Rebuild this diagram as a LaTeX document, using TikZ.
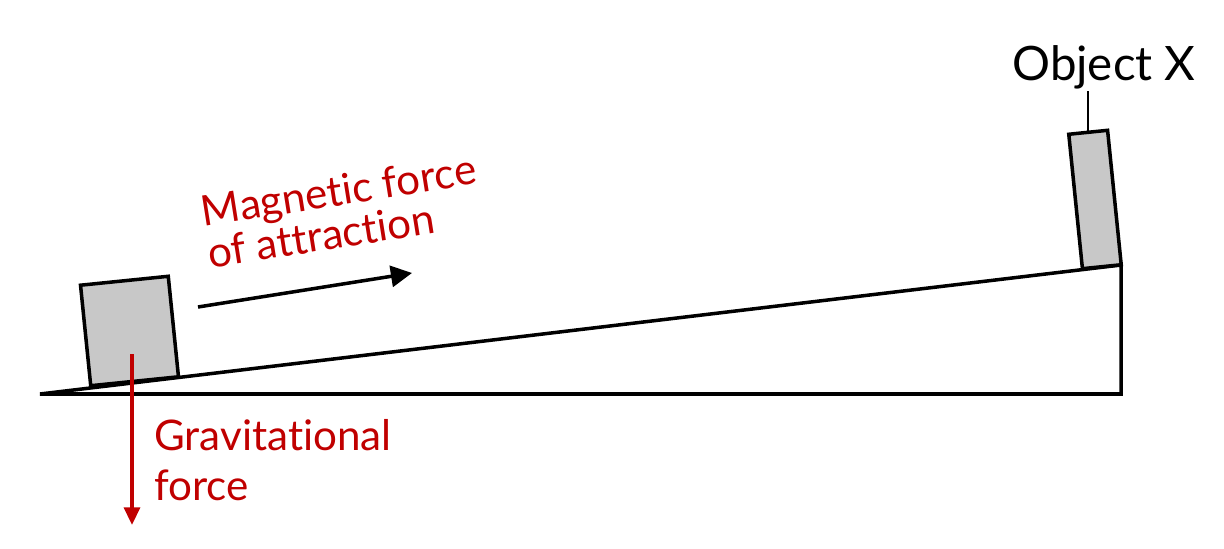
\documentclass[tikz,border=0pt]{standalone}
\usepackage{fontspec}
\setmainfont{Lato}[Ligatures=NoCommon]
\usetikzlibrary{positioning,calc,arrows.meta}
\definecolor{forcered}{RGB}{192,0,0}
\definecolor{blockgray}{RGB}{200,200,200}

\begin{document}
\begin{tikzpicture}[x=0.02cm, y=-0.02cm,
    mass block/.style={rectangle, draw, line width=2pt, fill=blockgray, inner sep=0pt, rotate=5.8},
    ramp line/.style={line width=2pt},
    force arrow/.style={-{Triangle[length=12pt, width=12pt]}, line width=2pt},
    force label/.style={text=forcered, align=left, inner sep=0pt, font=\fontsize{24}{24}\selectfont}]

    \useasboundingbox (0,0) rectangle (1224,548);

    \coordinate (foot) at (40,394);
    \coordinate (corner) at (1121,394);
    \coordinate (top) at (1121,265);
    \draw [ramp line] (foot) -- (corner) -- (top) -- cycle;

    \node [mass block, minimum width=50.2pt, minimum height=57.5pt] (block) at (129.5,331) {};
    \node [mass block, minimum width=22.2pt, minimum height=76.9pt] (xbox) at (1095,199.5) {};

    \node [font=\fontsize{27}{30}\selectfont, inner sep=1pt, anchor=base] (xlabel) at (1104,80) {Object X};
    \draw [line width=1.4pt] (xbox.north) -- (xbox.north |- xlabel.south);

    \coordinate (mstart) at (198,307);
    \coordinate (mend) at (412,273);
    \draw [force arrow] (mstart) -- (mend);
    \node [force label, rotate=9] (magnet) at (342,211) {Magnetic force\\of attraction};

    \coordinate (gstart) at (132,354);
    \coordinate (gend) at (132,525);
    \draw [force arrow, forcered, -{Triangle[length=10pt, width=9pt]}] (gstart) -- (gend);
    \node [force label, font=\fontsize{24}{28.3}\selectfont] (gravity) at (273,460) {Gravitational\\force};

\end{tikzpicture}
\end{document}
